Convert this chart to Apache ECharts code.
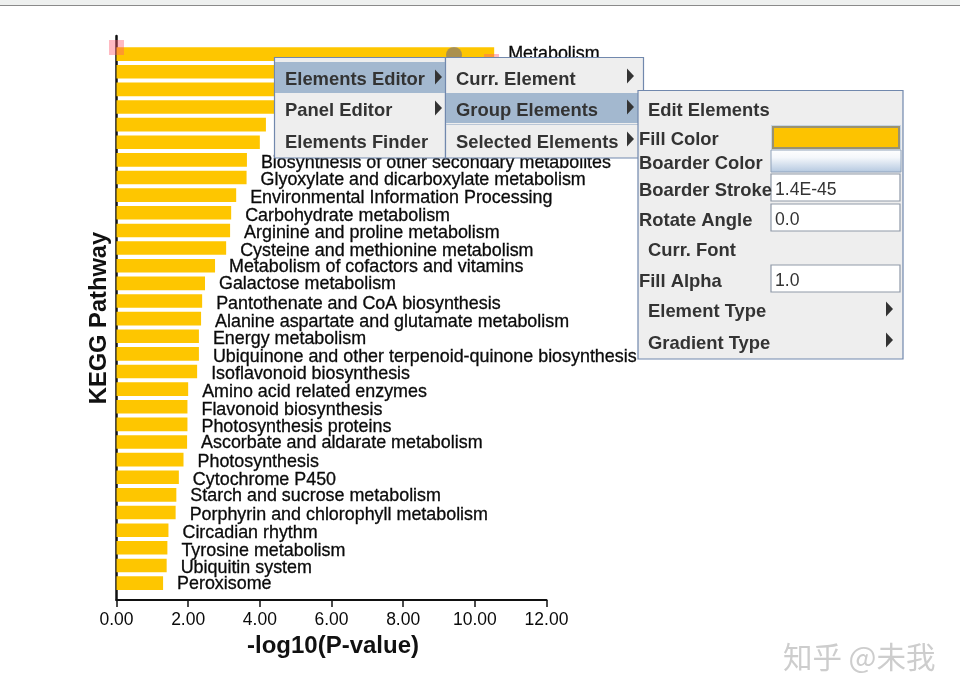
<!DOCTYPE html>
<html><head><meta charset="utf-8"><style>html,body{margin:0;padding:0;background:#fff}#c{width:960px;height:696px}</style>
<script src="https://cdn.jsdelivr.net/npm/echarts@6/dist/echarts.min.js"></script></head><body><div id="c"></div>
<script>
const pathways = ["Metabolism","","","","","","Biosynthesis of other secondary metabolites","Glyoxylate and dicarboxylate metabolism","Environmental Information Processing","Carbohydrate metabolism","Arginine and proline metabolism","Cysteine and methionine metabolism","Metabolism of cofactors and vitamins","Galactose metabolism","Pantothenate and CoA biosynthesis","Alanine aspartate and glutamate metabolism","Energy metabolism","Ubiquinone and other terpenoid-quinone biosynthesis","Isoflavonoid biosynthesis","Amino acid related enzymes","Flavonoid biosynthesis","Photosynthesis proteins","Ascorbate and aldarate metabolism","Photosynthesis","Cytochrome P450","Starch and sucrose metabolism","Porphyrin and chlorophyll metabolism","Circadian rhythm","Tyrosine metabolism","Ubiquitin system","Peroxisome"];
const minusLogP = [10.54,5.2,4.9,4.5,4.17,4.0,3.64,3.63,3.34,3.2,3.17,3.06,2.75,2.47,2.39,2.36,2.3,2.3,2.25,2.0,1.98,1.98,1.97,1.87,1.74,1.67,1.65,1.45,1.42,1.4,1.3];
const xTicks = ["0.00","2.00","4.00","6.00","8.00","10.00","12.00"];

// hand-placed label drift in the source figure (pixels below the bar centre)
const labelDrift = [0,0,0,0,0,0,3,3,3,3,3,2.5,1,1,3,3,3,3,3,2.5,3,3,1,2.5,3,1,3,3,3,3,1];

const FONT = '"Liberation Sans", Arial, sans-serif';
const MENU = '#eeeeee', EDGE = '#7188ad', HI = '#a3b8cf', INK = '#333333', Z = 100;
const rect = (x,y,w,h,fill,stroke,lw) => ({type:'rect',z:Z,shape:{x,y,width:w,height:h},style:{fill,stroke:stroke||null,lineWidth:lw||0}});
const text = (x,y,t,o={}) => ({type:'text',z:Z+1,x,y:y+2,style:{text:t,fontFamily:FONT,fontWeight:o.w||'bold',fontSize:o.s||18.4,fill:o.c||INK,verticalAlign:'middle',textAlign:o.a||'left'}});
const arrow = (x,y) => ({type:'polygon',z:Z+1,shape:{points:[[x,y-7.5],[x+7,y],[x,y+7.5]]},style:{fill:'#333'}});
const field = (x,y,w,h) => [rect(x,y,w,h,'#ffffff','#8f99a8',1.2)];

const overlays = [
  rect(0,0,960,5,'#eef0ef'), rect(0,5,960,1,'#8a8a8a'),
  // selection handles
  {type:'rect',z:50,shape:{x:109,y:40,width:15,height:15},style:{fill:'rgba(255,90,110,0.42)'}},
  {type:'rect',z:50,shape:{x:484,y:54,width:15,height:6},style:{fill:'rgba(255,90,110,0.42)'}},
  {type:'circle',z:50,shape:{cx:454,cy:55,r:8},style:{fill:'rgba(100,100,140,0.55)'}},
  // first menu
  rect(274.5,57.5,171,100.5,MENU,EDGE,1.2),
  rect(275,62,170,31,HI),
  text(285,78,'Elements Editor'), text(285,109,'Panel Editor'), text(285,141,'Elements Finder'),
  arrow(435,77), arrow(435,108),
  // second menu
  rect(445.5,57.5,198,100.5,MENU,EDGE,1.2),
  rect(446,93,192,30,HI), rect(446,124,192,1,'#b9c6d6'),
  text(456,78,'Curr. Element'), text(456,109,'Group Elements'), text(456,141,'Selected Elements'),
  arrow(627,76), arrow(627,107), arrow(627,139),
  // third menu
  rect(638,90.5,265,268.5,MENU,EDGE,1.2),
  text(648,109,'Edit Elements'),
  text(639,138,'Fill Color'), text(639,162,'Boarder Color'), text(639,189,'Boarder Stroke'),
  text(639,219,'Rotate Angle'), text(648,249,'Curr. Font'), text(639,280,'Fill Alpha'),
  text(648,310,'Element Type'), text(648,342,'Gradient Type'),
  rect(771,125,130,24,'#c6d4e3'), rect(773,127,126,21,'#fdc300','#9a9270',2),
  {type:'rect',z:Z,shape:{x:771,y:150,width:130,height:22},style:{stroke:'#8fa2ba',lineWidth:1,fill:{type:'linear',x:0,y:0,x2:0,y2:1,colorStops:[{offset:0,color:'#ffffff'},{offset:0.35,color:'#f4f7fb'},{offset:1,color:'#b3c7df'}]}}},
  ...field(771,174,129,27), ...field(771,204,129,27), ...field(771,265,129,27),
  text(775,188,'1.4E-45',{w:'normal',s:17.6}), text(775,218,'0.0',{w:'normal',s:17.6}), text(775,279,'1.0',{w:'normal',s:17.6}),
  arrow(886,309), arrow(886,340),
  // watermark
  {type:'text',z:Z,x:783,y:657,style:{text:'知乎 @未我',fontFamily:'"Noto Sans CJK SC"',fontSize:29.5,fill:'#cdcdcd',verticalAlign:'middle',textShadowColor:'#eeeeee',textShadowOffsetX:1,textShadowOffsetY:1,textShadowBlur:0}}
];

const chart = echarts.init(document.getElementById('c'),null,{renderer:'canvas'});
chart.setOption({
  animation:false,
  backgroundColor:'#ffffff',
  grid:[
    {left:116.5,width:430,top:45.3,height:546.6},
    {left:116.5,width:430,top:36,height:564}
  ],
  xAxis:[
    {gridIndex:0,type:'value',min:0,max:12,show:false},
    {gridIndex:1,type:'value',min:0,max:12,interval:2,
     axisLine:{show:true,lineStyle:{color:'#111',width:2}},
     axisTick:{show:true,length:7,inside:false,lineStyle:{color:'#111',width:1.5}},
     splitLine:{show:false},
     axisLabel:{margin:11,fontFamily:FONT,fontSize:17.5,color:'#0a0a0a',formatter:(v,i)=>xTicks[i],showMinLabel:true,showMaxLabel:true,hideOverlap:false},
     name:'-log10(P-value)',nameLocation:'middle',nameGap:28,
     nameTextStyle:{fontFamily:FONT,fontWeight:'bold',fontSize:24,color:'#111',padding:[0,0,0,3]}}
  ],
  yAxis:[
    {gridIndex:0,type:'category',inverse:true,data:pathways,show:false},
    {gridIndex:1,type:'value',min:0,max:1,
     axisLine:{show:true,onZero:false,lineStyle:{color:'#111',width:2.5}},
     axisTick:{show:false},axisLabel:{show:false},splitLine:{show:false},
     name:'KEGG Pathway',nameLocation:'middle',nameGap:5,
     nameTextStyle:{fontFamily:FONT,fontWeight:'bold',fontSize:23.7,color:'#111'}}
  ],
  series:[{
    type:'bar',xAxisIndex:0,yAxisIndex:0,barWidth:13.6,
    itemStyle:{color:'#fec600'},
    data:minusLogP.map((v,i)=>({value:v,label:{offset:[0,labelDrift[i]]}})),
    label:{show:true,position:'right',distance:14,fontFamily:FONT,fontSize:17.9,color:'#0a0a0a',
      textBorderColor:'#0a0a0a',textBorderWidth:0.3,
      formatter:p=>pathways[p.dataIndex]}
  }],
  graphic:overlays.map(e=>Object.assign({silent:true},e))
});
</script></body></html>
